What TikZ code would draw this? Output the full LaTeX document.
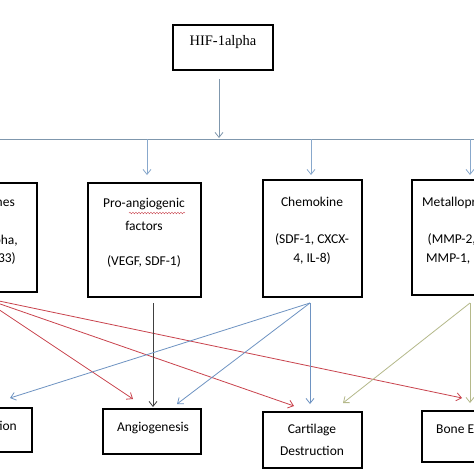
\documentclass[tikz,border=0pt]{standalone}
\usepackage{fontspec}
\setmainfont{Carlito}
\newfontfamily\serifhif{Liberation Serif}
\usetikzlibrary{arrows.meta,decorations.pathmorphing}
\definecolor{redarr}{HTML}{C9434D}
\definecolor{bluearr}{HTML}{6E93C2}
\definecolor{greenarr}{HTML}{B5B98A}
\definecolor{busc}{HTML}{7F97AD}
\definecolor{dropc}{HTML}{88A8CC}
\begin{document}
\begin{tikzpicture}[x=1pt,y=-1pt,
  box/.style={draw=black,line width=1.5pt,inner sep=0pt},
  txt/.style={inner sep=0pt,font=\fontsize{13.5}{16}\selectfont},
  conn/.style={line width=0.8pt,-{Straight Barb[length=5pt,width=8pt]}},
  redc/.style={conn,draw=redarr},
  bluec/.style={conn,draw=bluearr},
  greenc/.style={conn,draw=greenarr},
  blackc/.style={conn,draw=black!75},
  dropc/.style={conn,draw=dropc}]
\useasboundingbox (0,0) rectangle (474,474);
\fill[white] (0,0) rectangle (474,474);

% top box
\node[box,minimum width=100pt,minimum height=45pt] (hif) at (223,47.5) {};
\node[inner sep=0pt,anchor=mid,font=\serifhif\fontsize{14.5}{17}\selectfont] (hift) at (223,43) {HIF-1alpha};

% middle boxes
\node[box,minimum width=113pt,minimum height=109pt] (lbox) at (-19.5,237.5) {};
\node[box,minimum width=113pt,minimum height=114pt] (pbox) at (144.5,240) {};
\node[box,minimum width=99pt,minimum height=117pt] (cbox) at (312.5,238.5) {};
\node[box,minimum width=116pt,minimum height=115pt] (mbox) at (470,237.5) {};

% bottom boxes
\node[box,minimum width=100pt,minimum height=44pt] (ibox) at (-18,430) {};
\node[box,minimum width=98pt,minimum height=45pt] (abox) at (152,431.5) {};
\node[box,minimum width=99pt,minimum height=56pt] (dbox) at (312.5,440) {};
\node[box,minimum width=96pt,minimum height=51pt] (ebox) at (470,436.5) {};

% texts
\node[txt,anchor=mid east] (l1) at (15,204) {Cytokines};
\node[txt,anchor=mid east] (l2) at (18,242) {(TNF-alpha,};
\node[txt,anchor=mid east] (l3) at (16,260) {IL-1, IL-33)};

\node[txt,anchor=mid] (p1) at (144,205) {Pro-angiogenic};
\node[txt,anchor=mid] (p2) at (144,228) {factors};
\node[txt,anchor=mid] (p3) at (144,263) {(VEGF, SDF-1)};
\draw[redarr,line width=0.4pt,decorate,decoration={snake,amplitude=0.8pt,segment length=3pt}] (129,213) -- (185,213);

\node[txt,anchor=mid] (c1) at (312,204) {Chemokine};
\node[txt,anchor=mid] (c2) at (312,241) {(SDF-1, CXCX-};
\node[txt,anchor=mid] (c3) at (312,260) {4, IL-8)};

\node[txt,anchor=mid west] (m1) at (422,204) {Metalloproteinases};
\node[txt,anchor=mid west] (m2) at (427.5,241) {(MMP-2, MMP-9,};
\node[txt,anchor=mid west] (m3) at (426,260) {MMP-1, MMP-3)};

\node[txt,anchor=mid east] (i1) at (17,428) {Inflammation};
\node[txt,anchor=mid] (a1) at (153,429) {Angiogenesis};
\node[txt,anchor=mid] (d1) at (312,431) {Cartilage};
\node[txt,anchor=mid] (d2) at (312,453) {Destruction};
\node[txt,anchor=mid west] (e1) at (436,431) {Bone Erosion};

% HIF arrow and bus
\coordinate (hifout) at (219,79);
\coordinate (hifin) at (219,138);
\draw[conn,draw=busc] (hifout) -- (hifin);
\coordinate (busL) at (-60,139);
\coordinate (busR) at (530,139);
\draw[busc,line width=0.9pt] (busL) -- (busR);
\coordinate (bp) at (147,139);
\coordinate (bc) at (311,139);
\coordinate (bm) at (470,139);
\coordinate (bl) at (-20,139);
\draw[dropc] (bl) -- (-20,175);
\draw[dropc] (bp) -- (147,175);
\draw[dropc] (bc) -- (311,175);
\draw[dropc] (bm) -- (470,175);

% origins
\coordinate (rO) at (-20,297);
\coordinate (pO) at (153,303);
\coordinate (cO) at (310,303);
\coordinate (mO) at (470,303);
% targets
\coordinate (iT1) at (10,398);
\coordinate (aT1) at (133,399);
\coordinate (aT2) at (153,407);
\coordinate (aT3) at (177,404);
\coordinate (dT1) at (294,406);
\coordinate (dT2) at (310,404);
\coordinate (dT3) at (343,403);
\coordinate (eT1) at (462,398);
\coordinate (eT2) at (470,403);

\draw[redc] (rO) -- (aT1);
\draw[redc] (rO) -- (dT1);
\draw[redc] (rO) -- (eT1);
\draw[blackc] (pO) -- (aT2);
\draw[bluec] (cO) -- (iT1);
\draw[bluec] (cO) -- (aT3);
\draw[bluec] (cO) -- (dT2);
\draw[greenc] (mO) -- (dT3);
\draw[greenc] (mO) -- (eT2);
\end{tikzpicture}
\end{document}
